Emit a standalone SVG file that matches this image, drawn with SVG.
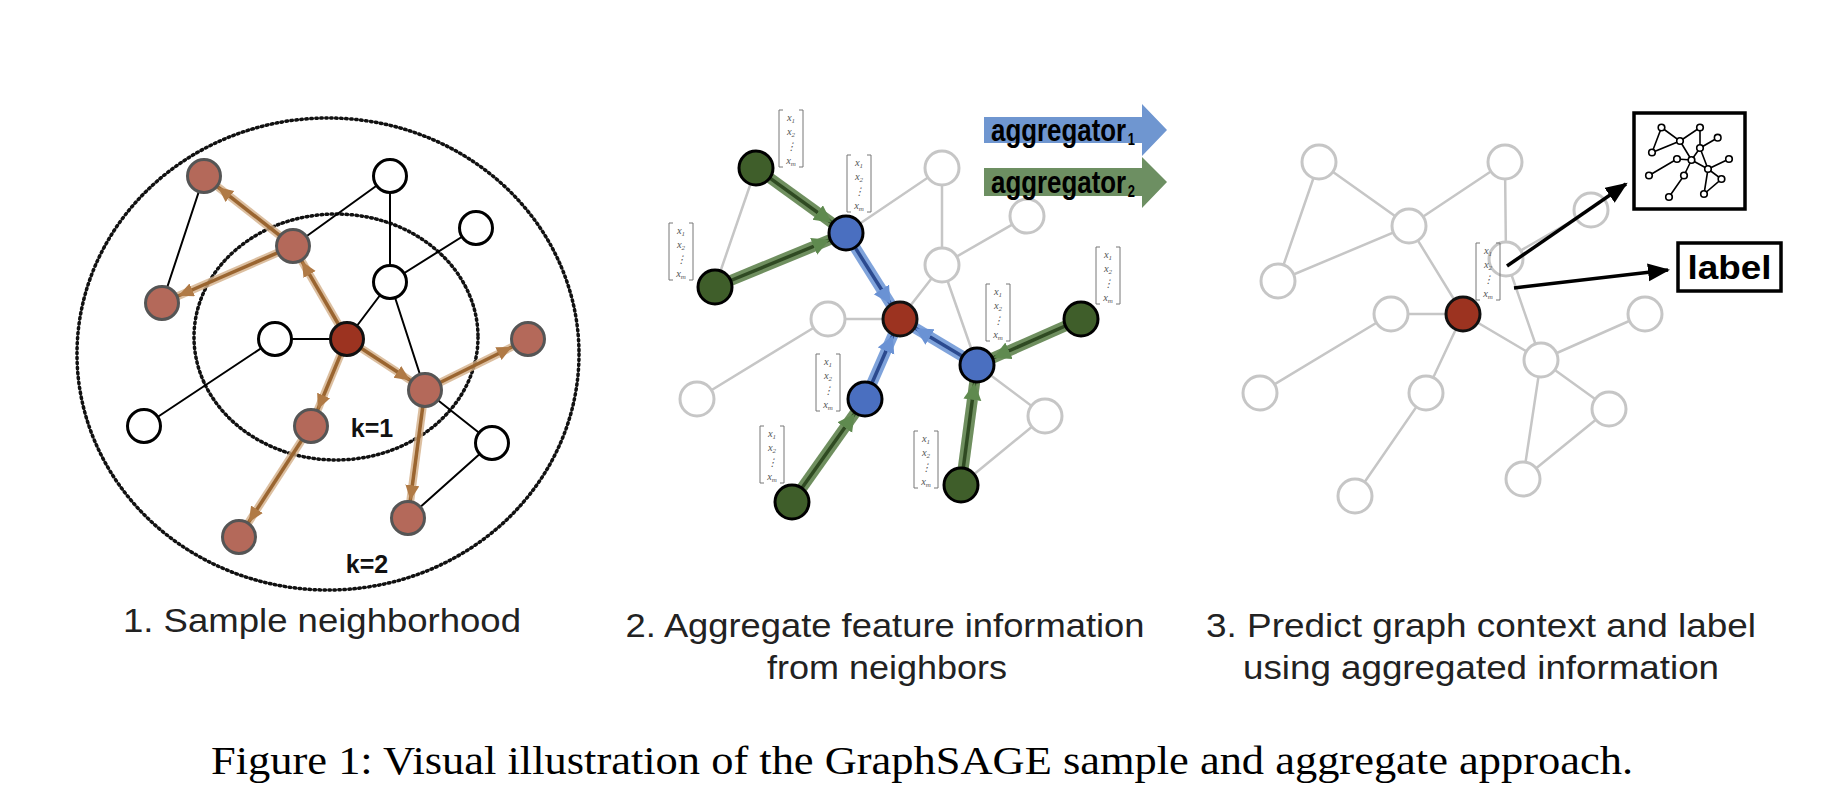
<svg xmlns="http://www.w3.org/2000/svg" xmlns:xlink="http://www.w3.org/1999/xlink" width="1826" height="808" viewBox="0 0 1826 808">
<style>
.cap{font-family:"Liberation Sans",Arial,sans-serif;font-size:34px;fill:#222;text-anchor:middle}
.fig{font-family:"Liberation Serif","Times New Roman",serif;font-size:40px;fill:#000;text-anchor:middle}
.kk{font-family:"Liberation Sans",Arial,sans-serif;font-size:25px;font-weight:bold;fill:#111;text-anchor:middle}
.ag{font-family:"Liberation Sans",Arial,sans-serif;font-size:32px;font-weight:bold;fill:#000}
.vt{font-family:"Liberation Serif","Times New Roman",serif;font-size:10.5px;font-style:italic;fill:#555;text-anchor:middle}
.ring{fill:none;stroke:#111;stroke-width:3.5;stroke-dasharray:1.5 3.5;stroke-linecap:round}
.e1{stroke:#000;stroke-width:2;fill:none}
.eg{stroke:#c6c6c6;stroke-width:2.5;fill:none}
.bh{stroke:#d4b089;stroke-width:8;opacity:.8}
.bc{stroke:#9a6530;stroke-width:3.5;marker-end:url(#mb)}
.gh{stroke:#6f8f5f;stroke-width:11}
.gc{stroke:#2f4a22;stroke-width:3.5;marker-end:url(#mg)}
.lh{stroke:#7fa3db;stroke-width:11}
.lc{stroke:#2b4a8f;stroke-width:3.5;marker-end:url(#ml)}
.nb{fill:#b4695a;stroke:#555;stroke-width:3}
.nw{fill:#fff;stroke:#000;stroke-width:3}
.nr{fill:#9c3320;stroke:#111;stroke-width:3}
.ngr{fill:#3f5e2a;stroke:#000;stroke-width:3}
.nbl{fill:#4a6fc0;stroke:#000;stroke-width:3}
.ngy{fill:#fff;stroke:#c6c6c6;stroke-width:3}
.mini{fill:#fff;stroke:#000;stroke-width:1.6}
</style>
<defs>
<marker id="mb" markerUnits="userSpaceOnUse" markerWidth="60" markerHeight="20" refX="33" refY="7" orient="auto"><path d="M0,0 L15,7 L0,14 z" fill="#b07a45"/></marker>
<marker id="mg" markerUnits="userSpaceOnUse" markerWidth="60" markerHeight="24" refX="35" refY="9" orient="auto"><path d="M0,0 L17,9 L0,18 z" fill="#5f8a4f"/></marker>
<marker id="ml" markerUnits="userSpaceOnUse" markerWidth="60" markerHeight="24" refX="35" refY="9" orient="auto"><path d="M0,0 L17,9 L0,18 z" fill="#6a92d4"/></marker>
<marker id="mk" markerUnits="userSpaceOnUse" markerWidth="30" markerHeight="24" refX="20" refY="9" orient="auto"><path d="M0,0 L22,9 L0,18 z" fill="#000"/></marker>
<g id="vec">
<path d="M5,0 H1 V57 H5 M21,0 H25 V57 H21" fill="none" stroke="#777" stroke-width="1"/>
<text class="vt" x="13" y="11">x<tspan font-size="7" dy="2">1</tspan></text>
<text class="vt" x="13" y="25">x<tspan font-size="7" dy="2">2</tspan></text>
<text class="vt" x="13" y="40">⋮</text>
<text class="vt" x="13" y="54">x<tspan font-size="7" dy="2">m</tspan></text>
</g>
</defs>
<rect width="1826" height="808" fill="#fff"/>

<!-- Panel 1 -->
<ellipse class="ring" cx="328" cy="354" rx="251" ry="236"/>
<ellipse class="ring" cx="336" cy="337" rx="142" ry="123"/>
<g id="connectors1">
<path class="e1" d="M204,176 L162,303 M293,246 L390,176 M390,176 L390,282 L476,228 M390,282 L347,339 M390,282 L425,390 M275,339 L347,339 M275,339 L144,426 M425,390 L492,443 L408,518"/>
<g class="bh"><line x1="293" y1="246" x2="204" y2="176"/><line x1="293" y1="246" x2="162" y2="303"/><line x1="347" y1="339" x2="293" y2="246"/><line x1="347" y1="339" x2="425" y2="390"/><line x1="347" y1="339" x2="311" y2="426"/><line x1="425" y1="390" x2="528" y2="339"/><line x1="425" y1="390" x2="408" y2="518"/><line x1="311" y1="426" x2="239" y2="537"/></g>
<g class="bc"><line x1="293" y1="246" x2="204" y2="176"/><line x1="293" y1="246" x2="162" y2="303"/><line x1="347" y1="339" x2="293" y2="246"/><line x1="347" y1="339" x2="425" y2="390"/><line x1="347" y1="339" x2="311" y2="426"/><line x1="425" y1="390" x2="528" y2="339"/><line x1="425" y1="390" x2="408" y2="518"/><line x1="311" y1="426" x2="239" y2="537"/></g>
</g>
<g id="p1A"><circle class="nb" cx="204" cy="176" r="16.5"/></g>
<g id="p1B"><circle class="nw" cx="390" cy="176" r="16.5"/></g>
<g id="p1C"><circle class="nb" cx="293" cy="246" r="16.5"/></g>
<g id="p1D"><circle class="nw" cx="476" cy="228" r="16.5"/></g>
<g id="p1E"><circle class="nw" cx="390" cy="282" r="16.5"/></g>
<g id="p1F"><circle class="nb" cx="162" cy="303" r="16.5"/></g>
<g id="p1G"><circle class="nw" cx="275" cy="339" r="16.5"/></g>
<g id="p1H"><circle class="nr" cx="347" cy="339" r="16.5"/></g>
<g id="p1I"><circle class="nb" cx="528" cy="339" r="16.5"/></g>
<g id="p1J"><circle class="nb" cx="425" cy="390" r="16.5"/></g>
<g id="p1K"><circle class="nw" cx="144" cy="426" r="16.5"/></g>
<g id="p1L"><circle class="nb" cx="311" cy="426" r="16.5"/></g>
<g id="p1M"><circle class="nw" cx="492" cy="443" r="16.5"/></g>
<g id="p1N"><circle class="nb" cx="408" cy="518" r="16.5"/></g>
<g id="p1O"><circle class="nb" cx="239" cy="537" r="16.5"/></g>
<text class="kk" x="372" y="437">k=1</text>
<text class="kk" x="367" y="573">k=2</text>
<text class="cap" x="322" y="632" textLength="398" lengthAdjust="spacingAndGlyphs">1. Sample neighborhood</text>

<!-- Panel 2 -->
<g id="connectors2">
<path class="eg" d="M756,168 L715,287 M846,233 L942,168 L942,265 L1027,216 M942,265 L900,319 M942,265 L977,365 M828,319 L900,319 M828,319 L697,399 M977,365 L1045,416 L961,485"/>
<g class="gh"><line x1="756" y1="168" x2="846" y2="233"/><line x1="715" y1="287" x2="846" y2="233"/><line x1="1081" y1="319" x2="977" y2="365"/><line x1="961" y1="485" x2="977" y2="365"/><line x1="792" y1="502" x2="865" y2="399"/></g>
<g class="gc"><line x1="756" y1="168" x2="846" y2="233"/><line x1="715" y1="287" x2="846" y2="233"/><line x1="1081" y1="319" x2="977" y2="365"/><line x1="961" y1="485" x2="977" y2="365"/><line x1="792" y1="502" x2="865" y2="399"/></g>
<g class="lh"><line x1="846" y1="233" x2="900" y2="319"/><line x1="977" y1="365" x2="900" y2="319"/><line x1="865" y1="399" x2="900" y2="319"/></g>
<g class="lc"><line x1="846" y1="233" x2="900" y2="319"/><line x1="977" y1="365" x2="900" y2="319"/><line x1="865" y1="399" x2="900" y2="319"/></g>
</g>
<g id="p2A"><circle class="ngr" cx="756" cy="168" r="17"/></g>
<g id="p2B"><circle class="ngy" cx="942" cy="168" r="17"/></g>
<g id="p2C"><circle class="nbl" cx="846" cy="233" r="17"/></g>
<g id="p2D"><circle class="ngy" cx="1027" cy="216" r="17"/></g>
<g id="p2E"><circle class="ngy" cx="942" cy="265" r="17"/></g>
<g id="p2F"><circle class="ngr" cx="715" cy="287" r="17"/></g>
<g id="p2G"><circle class="ngy" cx="828" cy="319" r="17"/></g>
<g id="p2H"><circle class="nr" cx="900" cy="319" r="17"/></g>
<g id="p2I"><circle class="ngr" cx="1081" cy="319" r="17"/></g>
<g id="p2J"><circle class="nbl" cx="977" cy="365" r="17"/></g>
<g id="p2K"><circle class="ngy" cx="697" cy="399" r="17"/></g>
<g id="p2L"><circle class="nbl" cx="865" cy="399" r="17"/></g>
<g id="p2M"><circle class="ngy" cx="1045" cy="416" r="17"/></g>
<g id="p2N"><circle class="ngr" cx="961" cy="485" r="17"/></g>
<g id="p2O"><circle class="ngr" cx="792" cy="502" r="17"/></g>
<g id="vectors2">
<use xlink:href="#vec" x="778" y="110"/>
<use xlink:href="#vec" x="846" y="155"/>
<use xlink:href="#vec" x="668" y="223"/>
<use xlink:href="#vec" x="985" y="284"/>
<use xlink:href="#vec" x="1095" y="247"/>
<use xlink:href="#vec" x="815" y="354"/>
<use xlink:href="#vec" x="759" y="426"/>
<use xlink:href="#vec" x="913" y="431"/>
</g>
<g id="aggregator1"><path d="M984,117 H1142 V104 L1167,130 L1142,156 V143 H984 z" fill="#6f96d0"/><text class="ag" x="991" y="141" textLength="144" lengthAdjust="spacingAndGlyphs">aggregator<tspan font-size="16" dx="2" dy="4">1</tspan></text></g>
<g id="aggregator2"><path d="M984,168 H1142 V157 L1167,182 L1142,208 V196 H984 z" fill="#6d8f62"/><text class="ag" x="991" y="193" textLength="144" lengthAdjust="spacingAndGlyphs">aggregator<tspan font-size="16" dx="2" dy="4">2</tspan></text></g>
<text class="cap" x="885" y="637" textLength="519" lengthAdjust="spacingAndGlyphs">2. Aggregate feature information</text>
<text class="cap" x="887" y="679" textLength="240" lengthAdjust="spacingAndGlyphs">from neighbors</text>

<!-- Panel 3 -->
<g id="connectors3">
<path class="eg" d="M1319,162 L1278,281 M1319,162 L1409,226 L1278,281 M1409,226 L1505,162 L1506,259 L1591,210 M1409,226 L1463,314 M1506,259 L1541,360 M1391,314 L1463,314 L1541,360 L1645,314 M1391,314 L1260,393 M1463,314 L1426,393 L1355,496 M1541,360 L1609,409 L1523,479 L1541,360"/>
</g>
<g id="p3A"><circle class="ngy" cx="1319" cy="162" r="17"/></g>
<g id="p3B"><circle class="ngy" cx="1505" cy="162" r="17"/></g>
<g id="p3C"><circle class="ngy" cx="1409" cy="226" r="17"/></g>
<g id="p3D"><circle class="ngy" cx="1591" cy="210" r="17"/></g>
<g id="p3E"><circle class="ngy" cx="1506" cy="259" r="17"/></g>
<g id="p3F"><circle class="ngy" cx="1278" cy="281" r="17"/></g>
<g id="p3G"><circle class="ngy" cx="1391" cy="314" r="17"/></g>
<g id="p3H"><circle class="nr" cx="1463" cy="314" r="17"/></g>
<g id="p3I"><circle class="ngy" cx="1645" cy="314" r="17"/></g>
<g id="p3J"><circle class="ngy" cx="1541" cy="360" r="17"/></g>
<g id="p3K"><circle class="ngy" cx="1260" cy="393" r="17"/></g>
<g id="p3L"><circle class="ngy" cx="1426" cy="393" r="17"/></g>
<g id="p3M"><circle class="ngy" cx="1609" cy="409" r="17"/></g>
<g id="p3N"><circle class="ngy" cx="1523" cy="479" r="17"/></g>
<g id="p3O"><circle class="ngy" cx="1355" cy="496" r="17"/></g>
<g id="vector3"><use xlink:href="#vec" x="1475" y="243"/></g>
<g id="connectors3b" stroke="#000" stroke-width="3.5">
<line x1="1507" y1="266" x2="1626" y2="184" marker-end="url(#mk)"/>
<line x1="1514" y1="288" x2="1668" y2="270" marker-end="url(#mk)"/>
</g>
<g id="graphbox">
<rect x="1634" y="113" width="111" height="96" fill="#fff" stroke="#000" stroke-width="3.5"/>
<path d="M1661.5,127.5 L1680,141 L1652,152.5 Z M1680,141 L1700,127.5 L1700,148 L1717.7,137.7 M1680,141 L1691.5,160 M1700,148 L1691.5,160 M1700,148 L1708,169 M1677,159 L1691.5,160 M1677,159 L1649,175.5 M1691.5,160 L1708,169 L1729,159 M1708,169 L1721.5,179 L1704,194 L1708,169 M1684,175.5 L1669,197 M1684,175.5 L1691.5,160" stroke="#000" stroke-width="1.6" fill="none"/>
<g class="mini">
<circle cx="1661.5" cy="127.5" r="3.3"/><circle cx="1700" cy="127.5" r="3.3"/><circle cx="1680" cy="141" r="3.3"/><circle cx="1717.7" cy="137.7" r="3.3"/><circle cx="1652" cy="152.5" r="3.3"/><circle cx="1700" cy="148" r="3.3"/><circle cx="1677" cy="159" r="3.3"/><circle cx="1691.5" cy="160" r="3.3"/><circle cx="1729" cy="159" r="3.3"/><circle cx="1708" cy="169" r="3.3"/><circle cx="1649" cy="175.5" r="3.3"/><circle cx="1684" cy="175.5" r="3.3"/><circle cx="1721.5" cy="179" r="3.3"/><circle cx="1669" cy="197" r="3.3"/><circle cx="1704" cy="194" r="3.3"/>
</g>
</g>
<g id="labelbox">
<rect x="1678" y="243" width="103" height="48" fill="#fff" stroke="#000" stroke-width="3.5"/>
<text x="1729.5" y="279" font-family="Liberation Sans,Arial,sans-serif" font-size="33" font-weight="bold" text-anchor="middle" textLength="84" lengthAdjust="spacingAndGlyphs">label</text>
</g>
<text class="cap" x="1481" y="637" textLength="550" lengthAdjust="spacingAndGlyphs">3. Predict graph context and label</text>
<text class="cap" x="1481" y="679" textLength="476" lengthAdjust="spacingAndGlyphs">using aggregated information</text>

<text class="fig" x="922" y="774" textLength="1422" lengthAdjust="spacingAndGlyphs">Figure 1: Visual illustration of the GraphSAGE sample and aggregate approach.</text>
</svg>
